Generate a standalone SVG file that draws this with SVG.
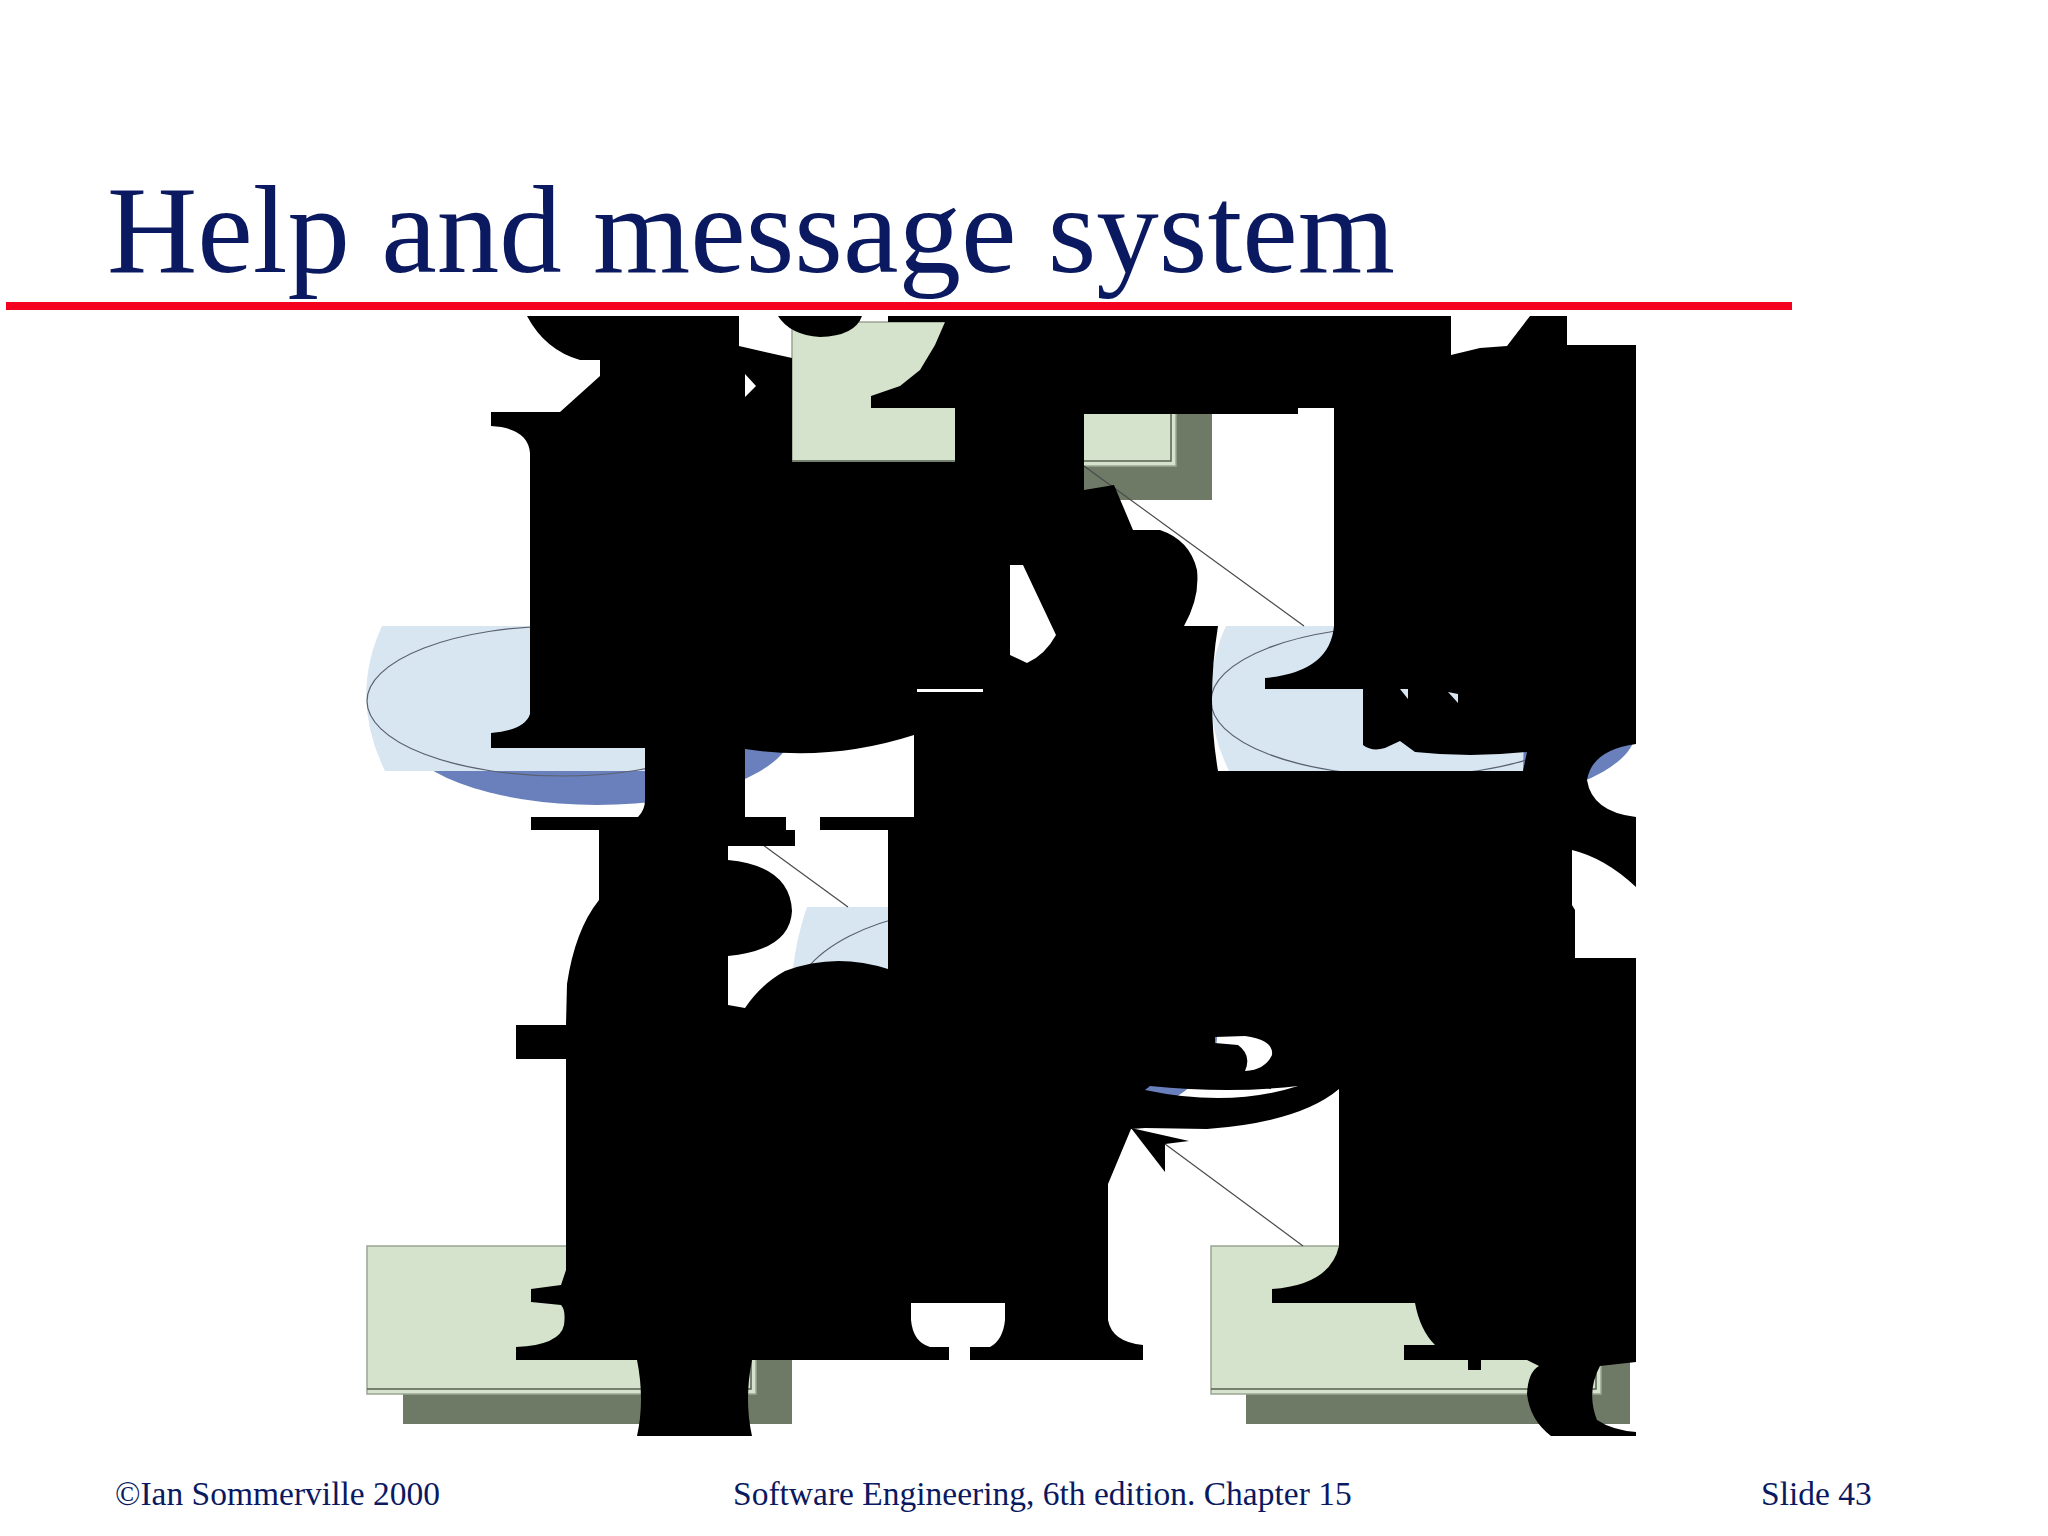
<svg xmlns="http://www.w3.org/2000/svg" width="2048" height="1536" viewBox="0 0 2048 1536">
<defs>
<style>
.title{font-family:"Liberation Serif","Times New Roman",serif;font-size:125px;fill:#0a1960}
.foot{font-family:"Liberation Serif","Times New Roman",serif;font-size:33.5px;fill:#0a1960}
.rect{fill:#d5e3cd;stroke:#9aa595;stroke-width:1.5}
.rshadow{fill:#6e7a66}
.inner{fill:none;stroke:#55614f;stroke-width:1.5}
.eshadow{fill:#6a80bd}
.efill{fill:#d8e6f2}
.eline{fill:none;stroke:#5a6070;stroke-width:1.2}
.conn{fill:none;stroke:#4a4a4a;stroke-width:1.2}
.mass{fill:#000;fill-rule:evenodd}
</style>
</defs>
<rect width="2048" height="1536" fill="#fff"/>
<text class="title" x="107" y="272">Help and message system</text>
<rect x="6" y="302" width="1786" height="8" fill="#f5001e"/>

<g id="node-top-rect">
<rect class="rshadow" x="828" y="354" width="384" height="146"/>
<rect class="rect" x="792" y="322" width="384" height="144"/>
<path class="inner" d="M1171,322 L1171,461 L792,461"/>
</g>
<g id="node-bottom-left-rect">
<rect class="rshadow" x="403" y="1276" width="389" height="148"/>
<rect class="rect" x="367" y="1246" width="389" height="148"/>
<path class="inner" d="M751,1246 L751,1389 L367,1389"/>
</g>
<g id="node-bottom-right-rect">
<rect class="rshadow" x="1246" y="1276" width="384" height="148"/>
<rect class="rect" x="1211" y="1246" width="390" height="148"/>
<path class="inner" d="M1596,1246 L1596,1389 L1211,1389"/>
</g>
<g id="node-left-ellipse">
<ellipse class="eshadow" cx="597" cy="730" rx="195" ry="75"/>
<path class="efill" d="M382,626 L683,626 L679,771 L385,771 Q349,698 382,626 Z"/>
<ellipse class="eline" cx="562" cy="701" rx="195" ry="75"/>
</g>
<g id="node-right-ellipse">
<ellipse class="eshadow" cx="1441" cy="730" rx="195" ry="75"/>
<path class="efill" d="M1226,626 L1527,626 L1523,771 L1229,771 Q1193,698 1226,626 Z"/>
<ellipse class="eline" cx="1406" cy="701" rx="195" ry="75"/>
</g>
<g id="node-center-ellipse">
<ellipse class="eshadow" cx="1022" cy="1036" rx="195" ry="100"/>
<path class="efill" d="M807,907 L1108,907 L1104,1102 L810,1102 Q774,1004 807,907 Z"/>
<ellipse class="eline" cx="987" cy="1007" rx="195" ry="100"/>
</g>

<g id="connectors">
<line class="conn" x1="1084" y1="466" x2="1304" y2="626"/>
<line class="conn" x1="700" y1="799" x2="848" y2="907"/>
<line class="conn" x1="1303" y1="1246" x2="1165" y2="1144"/>
<polygon points="1131,1128 1189,1141 1165,1144 1165,1172" fill="#000"/>
</g>

<g id="overlay">
<path class="mass" d="M527,316 L739,316 L739,346 L765,352 L792,358 L792,462 L955,462 L955,408 L871,408 L871,396 L900,386 L920,370 L935,345 L945,322 L888,322 L888,316 L1451,316 L1451,355 L1480,348 L1507,346 L1530,316 L1567,316 L1567,345 L1636,345 L1636,744 Q1592,750 1587,780 Q1592,812 1636,817 L1636,887 Q1605,858 1572,850 L1572,905 L1575,910 L1575,958 L1636,958 L1636,1362 L1600,1366 Q1586,1392 1597,1420 Q1612,1430 1636,1432 L1636,1436 L1551,1436 Q1530,1420 1527,1394 Q1528,1372 1539,1366 L1527,1360 L1481,1360 L1481,1370 L1468,1370 L1468,1360 L1404,1360 L1404,1345 L1435,1345 Q1420,1330 1415,1303 L1272,1303 L1272,1289 Q1330,1285 1339,1246 L1339,1089 Q1300,1122 1207,1129 L1145,1128 L1131,1129 L1108,1184 L1108,1320 Q1112,1342 1143,1345 L1143,1360 L970,1360 L970,1347 L990,1347 Q1003,1340 1005,1320 L1005,1303 L911,1303 L911,1320 Q913,1342 930,1347 L949,1347 L949,1360 L752,1360 Q744,1400 752,1436 L637,1436 Q645,1400 637,1360 L516,1360 L516,1347 Q560,1345 564,1325 Q566,1310 561,1305 L531,1302 L531,1289 L561,1285 L566,1270 L566,1059 L516,1059 L516,1025 L566,1025 L567,984 Q575,930 599,900 L599,830 L531,830 L531,817 L638,817 Q645,810 645,800 L645,748 L491,748 L491,733 Q525,730 530,714 L530,453 Q528,428 491,426 L491,412 L560,412 L600,376 L600,360 L580,360 Q545,350 527,316 Z
M1084,414 L1298,414 L1298,408 L1334,408 L1334,626 Q1330,672 1265,678 L1265,689 L1363,689 L1363,745 Q1372,752 1385,748 L1400,741 L1415,752 Q1470,758 1527,752 L1523,771 L1218,771 Q1206,700 1218,626 L1184,626 Q1200,598 1197,570 Q1190,540 1160,530 L1133,530 L1114,485 L1084,490 Z
M1010,565 L1023,565 L1056,635 Q1045,655 1027,663 L1010,655 Z
M745,374 L756,386 L745,397 Z
M745,749 Q830,762 914,735 L914,817 L820,817 L820,830 L888,830 L888,969 Q835,952 785,971 Q760,985 745,1008 L728,1005 L728,956 Q790,950 792,911 Q790,866 728,860 L728,846 L795,846 L795,830 L786,830 L786,817 L745,817 Z
M1215,1037 L1245,1036 Q1274,1040 1272,1055 Q1265,1070 1245,1071 Q1252,1055 1238,1045 L1215,1043 Z
M1145,1090 Q1230,1108 1298,1086 Q1230,1094 1150,1086 Z
M917,689 L983,689 L983,692 L917,692 Z
M1400,689 L1408,689 L1408,699 Z
M1448,692 L1458,694 L1458,703 Z"/>
<path fill="#000" d="M778,316 L862,316 Q855,336 820,337 Q790,335 778,316 Z"/>
</g>

<text class="foot" x="115" y="1505">©Ian Sommerville 2000</text>
<text class="foot" x="733" y="1505">Software Engineering, 6th edition. Chapter 15</text>
<text class="foot" x="1761" y="1505">Slide 43</text>
</svg>
